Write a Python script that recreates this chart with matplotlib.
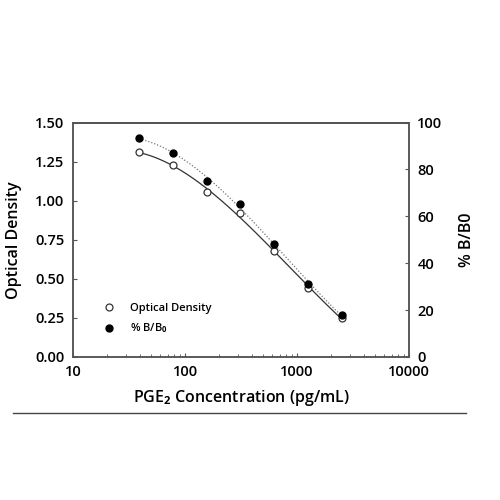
import matplotlib
matplotlib.use("Agg")
import matplotlib.pyplot as plt
import numpy as np

plt.rcParams['font.family'] = ['Open Sans', 'DejaVu Sans']
plt.rcParams['mathtext.fontset'] = 'custom'
plt.rcParams['mathtext.rm'] = 'Open Sans'
plt.rcParams['mathtext.bf'] = 'Open Sans:bold'

conc = [39, 78, 156, 312.5, 625, 1250, 2500]
od = [1.31, 1.225, 1.055, 0.92, 0.675, 0.44, 0.25]
bb0 = [93.2, 87.2, 75.2, 65.3, 48.2, 31.1, 18.0]

fig = plt.figure(figsize=(5, 5), dpi=100)
ax = fig.add_axes([0.146, 0.286, 0.672, 0.469])
ax2 = ax.twinx()

# smooth curves fitted in log space
lx = np.log10(conc)
xs = np.linspace(lx[0], lx[-1], 200)
p_od = np.polyfit(lx, od, 3)
p_bb = np.polyfit(lx, bb0, 3)
ax.plot(10**xs, np.polyval(p_od, xs), color='#333333', lw=0.9, zorder=2)
ax2.plot(10**xs, np.polyval(p_bb, xs), color='#777777', lw=0.9, ls=(0, (1, 1.5)), zorder=2)

ax.plot(conc, od, 'o', mfc='white', mec='#333333', ms=5, mew=0.9, zorder=4)
ax2.plot(conc, bb0, 'o', mfc='black', mec='black', ms=5, zorder=3)

ax.set_xscale('log')
ax.set_xlim(10, 10000)
ax.set_ylim(0, 1.5)
ax2.set_ylim(0, 100)
ax.set_yticks([0, 0.25, 0.5, 0.75, 1.0, 1.25, 1.5])
ax.set_yticklabels(['%.2f' % v for v in ax.get_yticks()])
ax2.set_yticks([0, 20, 40, 60, 80, 100])
ax.set_xticks([10, 100, 1000, 10000])
ax.set_xticklabels(['10', '100', '1000', '10000'])

for a in (ax, ax2):
    for s in a.spines.values():
        s.set_color('#555555')
        s.set_linewidth(1.1)
    a.tick_params(direction='in', length=3, width=0.8, color='#555555',
                  labelsize=10.5, pad=6)
    for lab in a.get_xticklabels() + a.get_yticklabels():
        lab.set_fontweight('semibold')
ax.tick_params(axis='x', which='minor', direction='in', length=2, width=0.6, color='#555555')
# top frame line drawn in figure coords
fig.add_artist(plt.Line2D([0.146, 0.818], [0.755, 0.755], color='#555555', lw=1.3))

ax.set_xlabel('PGE$_\\mathbf{2}$ Concentration (pg/mL)', fontsize=11.5, fontweight='semibold', labelpad=6)
ax.set_ylabel('Optical Density', fontsize=11.5, fontweight='semibold', labelpad=10)
ax2.set_ylabel('% B/B0', fontsize=11.5, fontweight='semibold', labelpad=12)

# legend
h1, = ax.plot([], [], 'o', mfc='white', mec='#333333', ms=5, mew=0.9)
h2, = ax.plot([], [], 'o', mfc='black', mec='black', ms=5)
ax.legend([h1, h2], ['Optical Density', '% B/B$_\\mathbf{0}$'], loc='lower left',
          bbox_to_anchor=(0.06, 0.05), frameon=False, prop={'size': 8, 'weight': 'semibold'},
          handletextpad=1.4, labelspacing=0.7, handlelength=1)

fig.add_artist(plt.Line2D([0.026, 0.932], [0.174, 0.174], color='#444444', lw=1.0))

fig.savefig('out.png', dpi=100)
